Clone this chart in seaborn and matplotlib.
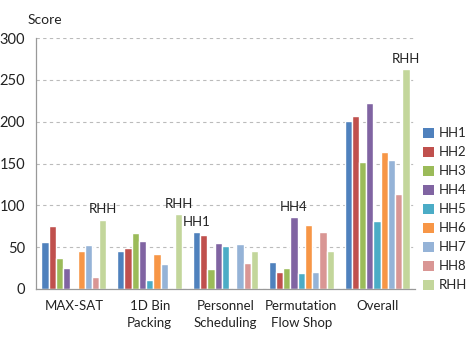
import matplotlib
matplotlib.use("Agg")
import matplotlib.pyplot as plt
import seaborn as sns
import pandas as pd
from matplotlib.patches import Patch

categories = ["MAX-SAT", "1D Bin\nPacking", "Personnel\nScheduling",
              "Permutation\nFlow Shop", "Overall"]
series = ["HH1", "HH2", "HH3", "HH4", "HH5", "HH6", "HH7", "HH8", "RHH"]
scores = {
    "HH1": [56, 46, 68, 32, 201],
    "HH2": [75, 49, 64, 20, 207],
    "HH3": [37, 67, 24, 25, 152],
    "HH4": [25, 57, 55, 86, 222],
    "HH5": [1, 11, 51, 19, 81],
    "HH6": [45, 42, 0, 77, 164],
    "HH7": [52, 30, 54, 20, 154],
    "HH8": [14, 0, 31, 68, 113],
    "RHH": [83, 90, 45, 45, 263],
}
winners = ["RHH", "RHH", "HH1", "HH4", "RHH"]
colors = ["#4F81BD", "#C0504D", "#9BBB59", "#8064A2", "#4BACC6",
          "#F79646", "#95B3D7", "#D99694", "#C3D69B"]
yticks = [0, 50, 100, 150, 200, 250, 300]

rows = []
for s in series:
    for c, v in zip(categories, scores[s]):
        rows.append({"category": c, "heuristic": s, "score": v})
df = pd.DataFrame(rows)

sns.set_style("white")
plt.rcParams["font.family"] = ["Lato", "DejaVu Sans"]

fig = plt.figure(figsize=(4.74, 3.39), dpi=100)
ax = fig.add_axes([36 / 474, 1 - 289 / 339, 379 / 474, 251 / 339])

sns.barplot(data=df, x="category", y="score", hue="heuristic",
            hue_order=series, order=categories, palette=colors,
            width=0.86, gap=0, saturation=1, ax=ax, legend=False,
            errorbar=None)

ax.set_ylim(0, 300)
ax.set_xlim(-0.5, len(categories) - 0.5)
ax.set_yticks(yticks)
ax.set_yticklabels([str(t) for t in yticks], fontsize=10.5, color="#222222")
ax.yaxis.grid(True, linestyle=(0, (3, 3)), color="#BBBBBB", linewidth=0.8)
ax.set_axisbelow(True)

ax.set_xticks(range(len(categories)))
ax.set_xticklabels(categories, fontsize=9.5, color="#222222", linespacing=1.5)
ax.set_xticks([i - 0.5 for i in range(len(categories) + 1)], minor=True)
ax.tick_params(axis="x", which="major", length=0, pad=8)
ax.tick_params(axis="x", which="minor", length=4, color="#999999", width=0.8)
ax.tick_params(axis="y", length=0, pad=8)
ax.set_xlabel("")
ax.set_ylabel("")

for side in ["top", "right"]:
    ax.spines[side].set_visible(False)
for side in ["left", "bottom"]:
    ax.spines[side].set_color("#999999")
    ax.spines[side].set_linewidth(0.9)

# Label the best heuristic above its bar in each group
for ci, w in enumerate(winners):
    hi = series.index(w)
    bar = ax.containers[hi][ci]
    x = bar.get_x() + bar.get_width() / 2
    ax.text(x, scores[w][ci] + 5, w, ha="center", va="bottom",
            fontsize=9.5, color="#222222")

fig.text(28 / 474, 1 - 20 / 339, "Score", fontsize=10, color="#222222",
         ha="left", va="center")

handles = [Patch(facecolor=c, edgecolor="none") for c in colors]
fig.legend(handles, series, loc="upper left",
           bbox_to_anchor=(418 / 474, 1 - 122 / 339), frameon=False,
           fontsize=9.5, handlelength=0.8, handleheight=0.8,
           handletextpad=0.4, labelspacing=0.53, borderaxespad=0)

fig.savefig("out.png", dpi=100)
